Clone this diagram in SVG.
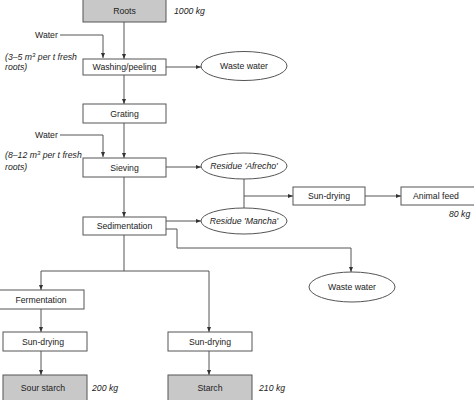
<svg xmlns="http://www.w3.org/2000/svg" width="474" height="400" viewBox="0 0 474 400">
<style>
.box{fill:#fff;stroke:#555;stroke-width:1}
.prod{fill:#c8c8c8;stroke:#555;stroke-width:1}
.ell{fill:#fff;stroke:#555;stroke-width:1}
.t{font-family:"Liberation Sans",Arial,sans-serif;font-size:8.7px;fill:#222;text-anchor:middle}
.ti{font-family:"Liberation Sans",Arial,sans-serif;font-size:8.7px;fill:#222;font-style:italic}
.tl{font-family:"Liberation Sans",Arial,sans-serif;font-size:8.7px;fill:#222}
.c{fill:none;stroke:#555;stroke-width:1}
</style>
<defs>
<marker id="arr" markerUnits="userSpaceOnUse" markerWidth="5" markerHeight="4" refX="5" refY="2" orient="auto">
<path d="M0,0 L5,2 L0,4 z" fill="#333"/>
</marker>
</defs>
<g id="connectors">
<line class="c" x1="124" y1="22" x2="124" y2="59" marker-end="url(#arr)"/>
<polyline class="c" points="60,35 103,35 103,58" marker-end="url(#arr)"/>
<line class="c" x1="166" y1="67" x2="201" y2="67" marker-end="url(#arr)"/>
<line class="c" x1="124" y1="75" x2="124" y2="104" marker-end="url(#arr)"/>
<polyline class="c" points="60,135 103,135 103,157" marker-end="url(#arr)"/>
<line class="c" x1="124" y1="123" x2="124" y2="158" marker-end="url(#arr)"/>
<line class="c" x1="166" y1="167" x2="201" y2="167" marker-end="url(#arr)"/>
<line class="c" x1="124" y1="177" x2="124" y2="217" marker-end="url(#arr)"/>
<line class="c" x1="166" y1="221" x2="201" y2="221" marker-end="url(#arr)"/>
<line class="c" x1="244" y1="179" x2="244" y2="208"/>
<line class="c" x1="244" y1="196" x2="293" y2="196" marker-end="url(#arr)"/>
<line class="c" x1="365" y1="196" x2="401" y2="196" marker-end="url(#arr)"/>
<polyline class="c" points="166,229 177,229 177,248 351,248 351,272" marker-end="url(#arr)"/>
<line class="c" x1="124" y1="235" x2="124" y2="271"/>
<line class="c" x1="41" y1="271" x2="209" y2="271"/>
<line class="c" x1="41" y1="271" x2="41" y2="290" marker-end="url(#arr)"/>
<line class="c" x1="209" y1="271" x2="209" y2="332" marker-end="url(#arr)"/>
<line class="c" x1="41" y1="309" x2="41" y2="332" marker-end="url(#arr)"/>
<line class="c" x1="41" y1="351" x2="41" y2="375" marker-end="url(#arr)"/>
<line class="c" x1="209" y1="351" x2="209" y2="375" marker-end="url(#arr)"/>
</g>
<g id="roots"><rect class="prod" x="83" y="-1" width="83" height="23"/><text class="t" x="124.5" y="14">Roots</text><text class="ti" x="174" y="14">1000 kg</text></g>
<g id="water1"><text class="tl" x="35" y="38">Water</text><text class="ti" x="5" y="60">(3–5 m<tspan dy="-3" font-size="6">3</tspan><tspan dy="3"> per t fresh</tspan></text><text class="ti" x="5" y="70">roots)</text></g>
<g id="washing"><rect class="box" x="83" y="59" width="83" height="16"/><text class="t" x="124.5" y="70">Washing/peeling</text></g>
<g id="waste1"><ellipse class="ell" cx="244" cy="66" rx="43" ry="14.5"/><text class="t" x="244" y="69">Waste water</text></g>
<g id="grating"><rect class="box" x="83" y="104" width="83" height="19"/><text class="t" x="124.5" y="117">Grating</text></g>
<g id="water2"><text class="tl" x="35" y="138">Water</text><text class="ti" x="5" y="158">(8–12 m<tspan dy="-3" font-size="6">3</tspan><tspan dy="3"> per t fresh</tspan></text><text class="ti" x="5" y="170">roots)</text></g>
<g id="sieving"><rect class="box" x="83" y="158" width="83" height="19"/><text class="t" x="124.5" y="171">Sieving</text></g>
<g id="afrecho"><ellipse class="ell" cx="244" cy="166" rx="43" ry="13"/><text class="t" x="244" y="169" font-style="italic">Residue 'Afrecho'</text></g>
<g id="sedimentation"><rect class="box" x="83" y="217" width="83" height="18"/><text class="t" x="124.5" y="229">Sedimentation</text></g>
<g id="mancha"><ellipse class="ell" cx="244" cy="221" rx="43" ry="13"/><text class="t" x="244" y="224" font-style="italic">Residue 'Mancha'</text></g>
<g id="sundrying1"><rect class="box" x="293" y="187" width="72" height="18"/><text class="t" x="329" y="199">Sun-drying</text></g>
<g id="animalfeed"><rect class="box" x="401" y="187" width="80" height="18"/><text class="t" x="436" y="199">Animal feed</text><text class="ti" x="449" y="217">80 kg</text></g>
<g id="waste2"><ellipse class="ell" cx="352" cy="287" rx="43" ry="15"/><text class="t" x="352" y="290">Waste water</text></g>
<g id="fermentation"><rect class="box" x="-1" y="290" width="85" height="19"/><text class="t" x="41" y="303">Fermentation</text></g>
<g id="sundrying2"><rect class="box" x="3" y="332" width="84" height="19"/><text class="t" x="43" y="345">Sun-drying</text></g>
<g id="sourstarch"><rect class="prod" x="3" y="375" width="84" height="26"/><text class="t" x="43" y="391">Sour starch</text><text class="ti" x="92" y="391">200 kg</text></g>
<g id="sundrying3"><rect class="box" x="168" y="332" width="84" height="19"/><text class="t" x="210" y="345">Sun-drying</text></g>
<g id="starch"><rect class="prod" x="168" y="375" width="84" height="26"/><text class="t" x="210" y="391">Starch</text><text class="ti" x="259" y="391">210 kg</text></g>
</svg>
